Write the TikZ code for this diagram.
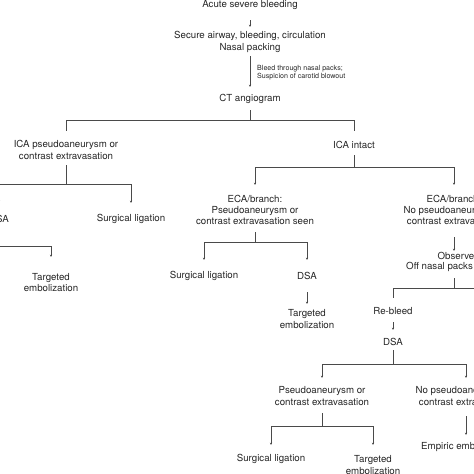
\documentclass[tikz,border=0pt]{standalone}
\usepackage{fontspec}
\setmainfont{TeX Gyre Heros}
\usetikzlibrary{arrows.meta}
\definecolor{txtc}{HTML}{262626}
\definecolor{linec}{HTML}{4A4A4A}
\begin{document}
\begin{tikzpicture}[x=1pt,y=-1pt,
  txt/.style={inner sep=0pt, align=center, text=txtc, font=\fontsize{9.7}{11.4}\selectfont},
  small/.style={inner sep=0pt, align=left, text=txtc, font=\fontsize{7.1}{8.2}\selectfont},
  ln/.style={draw=linec, line width=0.8pt},
  arr/.style={ln, -{Stealth[length=2.4pt,width=2.2pt]}}]
\useasboundingbox (0,0) rectangle (474,474);
\clip (0,0) rectangle (474,474);
% nodes
\node[txt] (top) at (250,5) {Acute severe bleeding};
\node[txt] (secure) at (250,42) {Secure airway, bleeding, circulation\\Nasal packing};
\node[small, anchor=west] (lbl) at (257,72.5) {Bleed through nasal packs;\\Suspicion of carotid blowout};
\node[txt] (ct) at (250,99) {CT angiogram};
\node[txt] (icap) at (66,150) {ICA pseudoaneurysm or\\contrast extravasation};
\node[txt] (icai) at (354,145) {ICA intact};
\node[txt] (dsaL) at (-1,219) {DSA};
\node[txt] (surgL) at (131,219) {Surgical ligation};
\node[txt] (tembL) at (51,282.5) {Targeted\\embolization};
\node[txt] (ecaA) at (255,210) {ECA/branch:\\Pseudoaneurysm or\\contrast extravasation seen};
\node[txt] (ecaB) at (454,210) {ECA/branch:\\No pseudoaneurysm or\\contrast extravasation};
\node[txt] (surgM) at (204,276) {Surgical ligation};
\node[txt] (dsaM) at (307,276) {DSA};
\node[txt] (tembM) at (307,319) {Targeted\\embolization};
\node[txt] (obs1) at (456,256) {Observe};
\node[txt, anchor=west] (obs2) at (406,267) {Off nasal packs};
\node[txt] (rebleed) at (393,311) {Re-bleed};
\node[txt] (dsaR) at (393,342) {DSA};
\node[txt] (pseR) at (322,396) {Pseudoaneurysm or\\contrast extravasation};
\node[txt] (nopR) at (466,396) {No pseudoaneurysm or\\contrast extravasation};
\node[txt] (surgR) at (271,459) {Surgical ligation};
\node[txt] (tembR) at (373,465) {Targeted\\embolization};
\node[txt] (empR) at (466,447) {Empiric embolization};
% junctions
\coordinate (j1) at (250,120);
\coordinate (j2) at (66,184);
\coordinate (j3) at (-1,246);
\coordinate (j4) at (354,167);
\coordinate (j5) at (255,242);
\coordinate (j6) at (454,288);
\coordinate (jR) at (520,288);
\coordinate (j7) at (393,364);
\coordinate (j8) at (322,426);
% connectors
\draw[arr, shorten <=15pt, shorten >=15pt] (top.center) -- (secure.center);
\draw[arr, shorten <=14pt, shorten >=12pt] (secure.center) -- (ct.center);
\draw[ln, shorten <=11pt] (ct.center) -- (j1);
\draw[ln, shorten >=19pt] (j1) -| (icap.center);
\draw[ln, shorten >=14pt] (j1) -| (icai.center);
\draw[ln, shorten <=15pt] (icap.center) -- (j2);
\draw[arr, shorten >=16pt] (j2) -| (dsaL.center);
\draw[arr, shorten >=16pt] (j2) -| (surgL.center);
\draw[ln, shorten <=7pt] (dsaL.center) -- (j3);
\draw[arr, shorten >=25.5pt] (j3) -| (tembL.center);
\draw[ln, shorten <=10pt] (icai.center) -- (j4);
\draw[arr, shorten >=25pt] (j4) -| (ecaA.center);
\draw[arr, shorten >=25pt] (j4) -| (ecaB.center);
\draw[ln, shorten <=22pt] (ecaA.center) -- (j5);
\draw[arr, shorten >=16pt] (j5) -| (surgM.center);
\draw[arr, shorten >=16pt] (j5) -| (dsaM.center);
\draw[arr, shorten <=16pt, shorten >=15pt] (dsaM.center) -- (tembM.center);
\draw[arr, shorten <=27pt, shorten >=5pt] (ecaB.center) -- (ecaB.center |- obs1.center);
\draw[ln, shorten <=11pt] (ecaB.center |- obs2.center) -- (j6);
\draw[ln, shorten >=13pt] (j6) -| (rebleed.center);
\draw[ln] (j6) -- (jR);
\draw[arr, shorten <=11pt, shorten >=12pt] (rebleed.center) -- (dsaR.center);
\draw[ln, shorten <=8pt] (dsaR.center) -- (j7);
\draw[arr, shorten >=18pt] (j7) -| (pseR.center);
\draw[arr, shorten >=18pt] (j7) -| (nopR.center);
\draw[ln, shorten <=17pt] (pseR.center) -- (j8);
\draw[arr, shorten >=14pt] (j8) -| (surgR.center);
\draw[arr, shorten >=20pt] (j8) -| (tembR.center);
\draw[arr, shorten <=20pt, shorten >=12pt] (nopR.center) -- (empR.center);
\end{tikzpicture}
\end{document}
